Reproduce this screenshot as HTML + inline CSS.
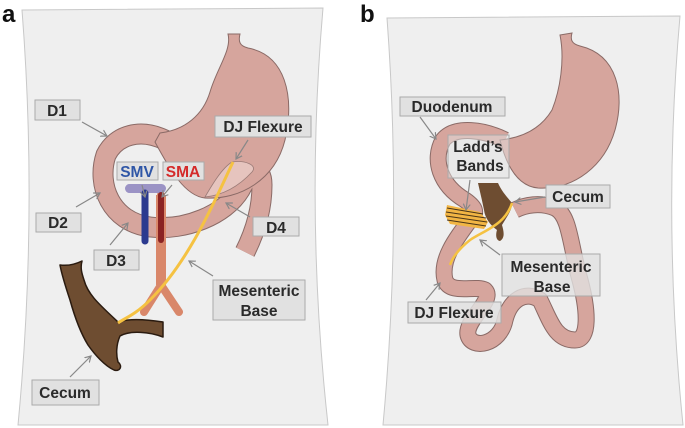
<!DOCTYPE html>
<html><head><style>
html,body{margin:0;padding:0;background:#fff;}
svg{display:block;}
text{font-family:"Liberation Sans",sans-serif;font-weight:bold;}
</style></head><body>
<svg width="685" height="428" viewBox="0 0 685 428" xmlns="http://www.w3.org/2000/svg">
<defs>
<marker id="ar" markerWidth="8" markerHeight="8" refX="6" refY="4" orient="auto" markerUnits="userSpaceOnUse">
<path d="M0,0.5 L6,4 L0,7.5" fill="none" stroke="#888" stroke-width="1.2"/>
</marker>
</defs>
<rect width="685" height="428" fill="#fff"/>
<path d="M22,10 L323,8 Q305,215 328,425 L18,425 Q38,215 22,10 Z" fill="#efefef" stroke="#c8c8c8" stroke-width="1"/>
<path d="M387,18 L680,16 Q662,220 683,425 L383,425 Q402,220 387,18 Z" fill="#efefef" stroke="#c8c8c8" stroke-width="1"/>
<text x="2" y="22" font-size="24" fill="#111">a</text>
<text x="360" y="22" font-size="24" fill="#111">b</text>

<!-- PANEL A -->
<path d="M165,140 C140,128 116,135 106,155 C96,185 111,222 150,227 C185,231 225,215 240,190 C250,170 262,165 262,185 C262,210 255,232 245,252" fill="none" stroke="#8a6a66" stroke-width="21" stroke-linejoin="round"/>
<path d="M165,140 C140,128 116,135 106,155 C96,185 111,222 150,227 C185,231 225,215 240,190 C250,170 262,165 262,185 C262,210 255,232 245,252" fill="none" stroke="#d6a59d" stroke-width="19" stroke-linejoin="round"/>
<path d="M228,34 L240,34 C238,42 240,46 248,48 C285,55 295,95 285,140 C275,180 240,200 205,198 C185,196 170,170 155,142 L160,133 C185,130 203,115 210,92 C217,68 232,50 228,34 Z" fill="#d6a59d" stroke="#8a6a66" stroke-width="1"/>
<path d="M232,162 C245,160 258,165 252,172 C240,185 225,195 205,197 C212,185 222,168 232,162 Z" fill="#ecd2cc" fill-opacity="0.7" stroke="#9a7a76" stroke-width="0.8"/>
<path d="M161,195 L161,285 L144,312 M161,285 L179,312" fill="none" stroke="#d9876a" stroke-width="8" stroke-linecap="round" stroke-linejoin="round"/>
<path d="M161,195 L161,285" stroke="#d9876a" stroke-width="10"/>
<rect x="125" y="184" width="41" height="9" rx="4.5" fill="#9b93c5"/>
<line x1="145" y1="193" x2="145" y2="241" stroke="#2b3a8f" stroke-width="7" stroke-linecap="round"/>
<line x1="161" y1="195" x2="161" y2="240" stroke="#8b2323" stroke-width="6" stroke-linecap="round"/>
<path d="M60,265 C68,266 76,264 82,261 C80,268 82,274 84,280 C88,295 100,305 118,322 C130,318 150,320 163,322 L163,337 C150,332 130,330 120,336 C116,345 116,355 118,362 C123,366 120,372 114,370 C105,366 95,355 88,345 C80,332 75,318 70,300 C66,288 62,276 60,265 Z" fill="#6e4d31" stroke="#2a1b10" stroke-width="1.5" stroke-linejoin="round"/>
<path d="M233,162 C215,200 190,260 150,300 C135,315 125,318 118,323" fill="none" stroke="#f5c242" stroke-width="3"/>
<g stroke="#aaa" fill="#e1e1e1" stroke-width="1">
<rect x="35" y="100" width="45" height="20"/>
<rect x="36" y="213" width="45" height="19"/>
<rect x="94" y="250" width="45" height="20"/>
<rect x="253" y="217" width="46" height="19"/>
<rect x="215" y="116" width="96" height="21"/>
<rect x="213" y="280" width="92" height="40"/>
<rect x="32" y="380" width="67" height="25"/>
<rect x="117" y="162" width="41" height="18"/>
<rect x="163" y="162" width="41" height="18"/>
</g>
<g font-size="15.5" fill="#2a2a2a" text-anchor="middle">
<text x="57" y="116">D1</text>
<text x="58" y="228">D2</text>
<text x="116" y="266">D3</text>
<text x="276" y="233">D4</text>
<text x="263" y="132">DJ Flexure</text>
<text x="259" y="296">Mesenteric</text>
<text x="259" y="316">Base</text>
<text x="65" y="398">Cecum</text>
<text x="137" y="177" fill="#2f56a6">SMV</text>
<text x="183" y="177" fill="#d42a2a">SMA</text>
</g>
<g stroke="#888" stroke-width="1.2" marker-end="url(#ar)">
<line x1="82" y1="122" x2="107" y2="136"/>
<line x1="76" y1="207" x2="100" y2="193"/>
<line x1="110" y1="245" x2="128" y2="223"/>
<line x1="250" y1="217" x2="226" y2="203"/>
<line x1="248" y1="140" x2="236" y2="159"/>
<line x1="213" y1="276" x2="189" y2="261"/>
<line x1="70" y1="377" x2="91" y2="356"/>
<line x1="142" y1="185" x2="145" y2="197"/>
<line x1="172" y1="185" x2="162" y2="197"/>
</g>

<!-- PANEL B -->
<path d="M505,140 C485,130 455,125 443,140 C432,160 440,185 465,200 C475,207 478,212 470,220 C455,240 440,260 445,280 C450,295 475,285 485,290 C495,300 465,320 468,335 C472,350 500,345 505,320 C510,300 525,290 540,300 C550,320 555,340 575,340 C590,340 588,310 580,280 C570,245 570,215 555,208 C540,202 525,205 515,210" fill="none" stroke="#8a6a66" stroke-width="17" stroke-linejoin="round"/>
<path d="M505,140 C485,130 455,125 443,140 C432,160 440,185 465,200 C475,207 478,212 470,220 C455,240 440,260 445,280 C450,295 475,285 485,290 C495,300 465,320 468,335 C472,350 500,345 505,320 C510,300 525,290 540,300 C550,320 555,340 575,340 C590,340 588,310 580,280 C570,245 570,215 555,208 C540,202 525,205 515,210" fill="none" stroke="#d6a59d" stroke-width="15" stroke-linejoin="round"/>
<path d="M560,35 L572,33 C570,40 572,44 580,46 C618,55 625,95 615,130 C605,165 575,190 538,188 C515,186 505,160 500,140 C520,138 540,130 552,110 C560,90 565,60 560,35 Z" fill="#d6a59d" stroke="#8a6a66" stroke-width="1"/>
<path d="M478,183 L498,183 C502,192 508,198 512,203 C512,210 508,215 502,225 C504,232 505,238 500,241 C495,240 496,233 497,230 C490,225 485,218 484,210 C482,200 480,192 478,183 Z" fill="#6e4d31"/>
<path d="M447,205 L480,212 L488,222 L484,229 L450,224 L445,215 Z" fill="#f2b544"/>
<g stroke="#4a3518" stroke-width="0.9">
<line x1="447" y1="208" x2="483" y2="214"/>
<line x1="446" y1="212" x2="486" y2="218"/>
<line x1="446" y1="216" x2="487" y2="222"/>
<line x1="447" y1="220" x2="486" y2="226"/>
</g>
<path d="M512,203 C505,225 485,230 470,240 C460,248 453,256 450,265" fill="none" stroke="#f5c242" stroke-width="2.5"/>
<g stroke="#aaa" fill="#e1e1e1" stroke-width="1">
<rect x="400" y="97" width="105" height="19"/>
<rect x="448" y="135" width="61" height="43" fill-opacity="0.5"/>
<rect x="546" y="185" width="64" height="23"/>
<rect x="502" y="254" width="98" height="42" fill-opacity="0.8"/>
<rect x="408" y="302" width="93" height="21" fill-opacity="0.85"/>
</g>
<g font-size="15.5" fill="#2a2a2a" text-anchor="middle">
<text x="452" y="112">Duodenum</text>
<text x="478" y="152">Ladd’s</text>
<text x="480" y="171">Bands</text>
<text x="578" y="202">Cecum</text>
<text x="551" y="272">Mesenteric</text>
<text x="552" y="292">Base</text>
<text x="454" y="318">DJ Flexure</text>
</g>
<g stroke="#888" stroke-width="1.2" marker-end="url(#ar)">
<line x1="420" y1="117" x2="436" y2="139"/>
<line x1="470" y1="180" x2="466" y2="210"/>
<line x1="545" y1="197" x2="515" y2="202"/>
<line x1="500" y1="255" x2="480" y2="240"/>
<line x1="426" y1="300" x2="440" y2="283"/>
</g>
</svg>
</body></html>
